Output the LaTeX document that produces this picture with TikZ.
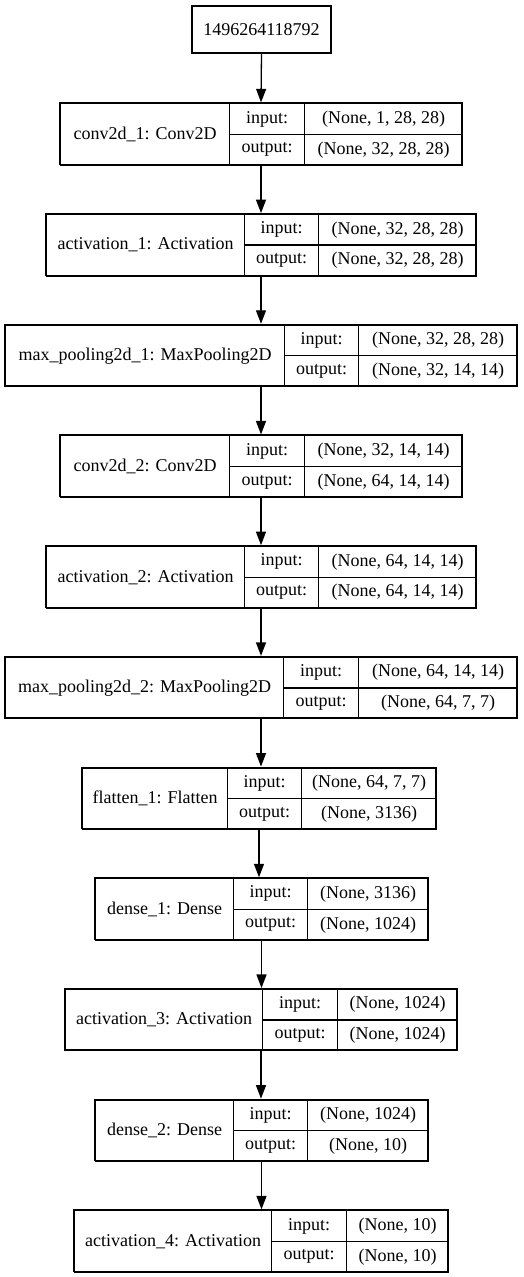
\documentclass[tikz,border=0pt]{standalone}
\usepackage{fontspec}
\setmainfont{Liberation Serif}
\usetikzlibrary{arrows.meta}
\tikzset{>={Triangle[length=13.5pt,width=10pt]}}

\begin{document}
\begin{tikzpicture}[x=1pt, y=-1pt, line width=1.3pt, font=\fontsize{18}{21}\selectfont]

  \tikzset{rec/.style={draw, inner sep=0pt, minimum height=61.5pt},
           cell/.style={draw, inner sep=0pt, anchor=north west}}

  \useasboundingbox (0,0) rectangle (523,1277);

  % input node
  \node[rec, minimum width=139pt, minimum height=47pt] (t) at (261.5,29.5) {1496264118792};

  % layers: name / cell borders x0,x1,x2,x3 / shapes
  \foreach \nm/\xa/\xb/\xc/\xd/\inp/\outp [count=\i] in {
      conv2d\_1: Conv2D/60/229/304/462/{(None, 1, 28, 28)}/{(None, 32, 28, 28)},
      activation\_1: Activation/46/244/318/476/{(None, 32, 28, 28)}/{(None, 32, 28, 28)},
      max\_pooling2d\_1: MaxPooling2D/5/284/358/517/{(None, 32, 28, 28)}/{(None, 32, 14, 14)},
      conv2d\_2: Conv2D/60/229/304/462/{(None, 32, 14, 14)}/{(None, 64, 14, 14)},
      activation\_2: Activation/46/244/318/476/{(None, 64, 14, 14)}/{(None, 64, 14, 14)},
      max\_pooling2d\_2: MaxPooling2D/5/283/358/517/{(None, 64, 14, 14)}/{(None, 64, 7, 7)},
      flatten\_1: Flatten/82/227/301/436/{(None, 64, 7, 7)}/{(None, 3136)},
      dense\_1: Dense/95/233/307/428/{(None, 3136)}/{(None, 1024)},
      activation\_3: Activation/65/262/337/457/{(None, 1024)}/{(None, 1024)},
      dense\_2: Dense/95/233/307/428/{(None, 1024)}/{(None, 10)},
      activation\_4: Activation/74/271/346/448/{(None, 10)}/{(None, 10)}} {
    \pgfmathsetmacro{\ya}{103+110.7*(\i-1)}
    \pgfmathsetmacro{\ym}{\ya+30.75}
    \pgfmathsetmacro{\yc}{\ya+30.75}
    \pgfmathsetmacro{\xm}{(\xa+\xd)/2}
    \pgfmathsetmacro{\wr}{\xd-\xa}
    \pgfmathsetmacro{\wa}{\xb-\xa}
    \pgfmathsetmacro{\wb}{\xc-\xb}
    \pgfmathsetmacro{\wc}{\xd-\xc}
    \node[rec, minimum width=\wr pt] (r\i) at (\xm,\yc) {};
    \node[cell, minimum width=\wa pt, minimum height=61.5pt] (n\i) at (\xa,\ya) {\nm};
    \node[cell, minimum width=\wb pt, minimum height=30.75pt] (i\i) at (\xb,\ya) {input:};
    \node[cell, minimum width=\wb pt, minimum height=30.75pt] (o\i) at (\xb,\ym) {output:};
    \node[cell, minimum width=\wc pt, minimum height=30.75pt] (vi\i) at (\xc,\ya) {\inp};
    \node[cell, minimum width=\wc pt, minimum height=30.75pt] (vo\i) at (\xc,\ym) {\outp};
  }

  % data flow
  \draw[->] (t.south) -- (r1.north);
  \foreach \i [evaluate=\i as \j using int(\i-1)] in {2,...,11}
    \draw[->] (r\j.south) -- (r\j.south |- r\i.north);

\end{tikzpicture}
\end{document}
